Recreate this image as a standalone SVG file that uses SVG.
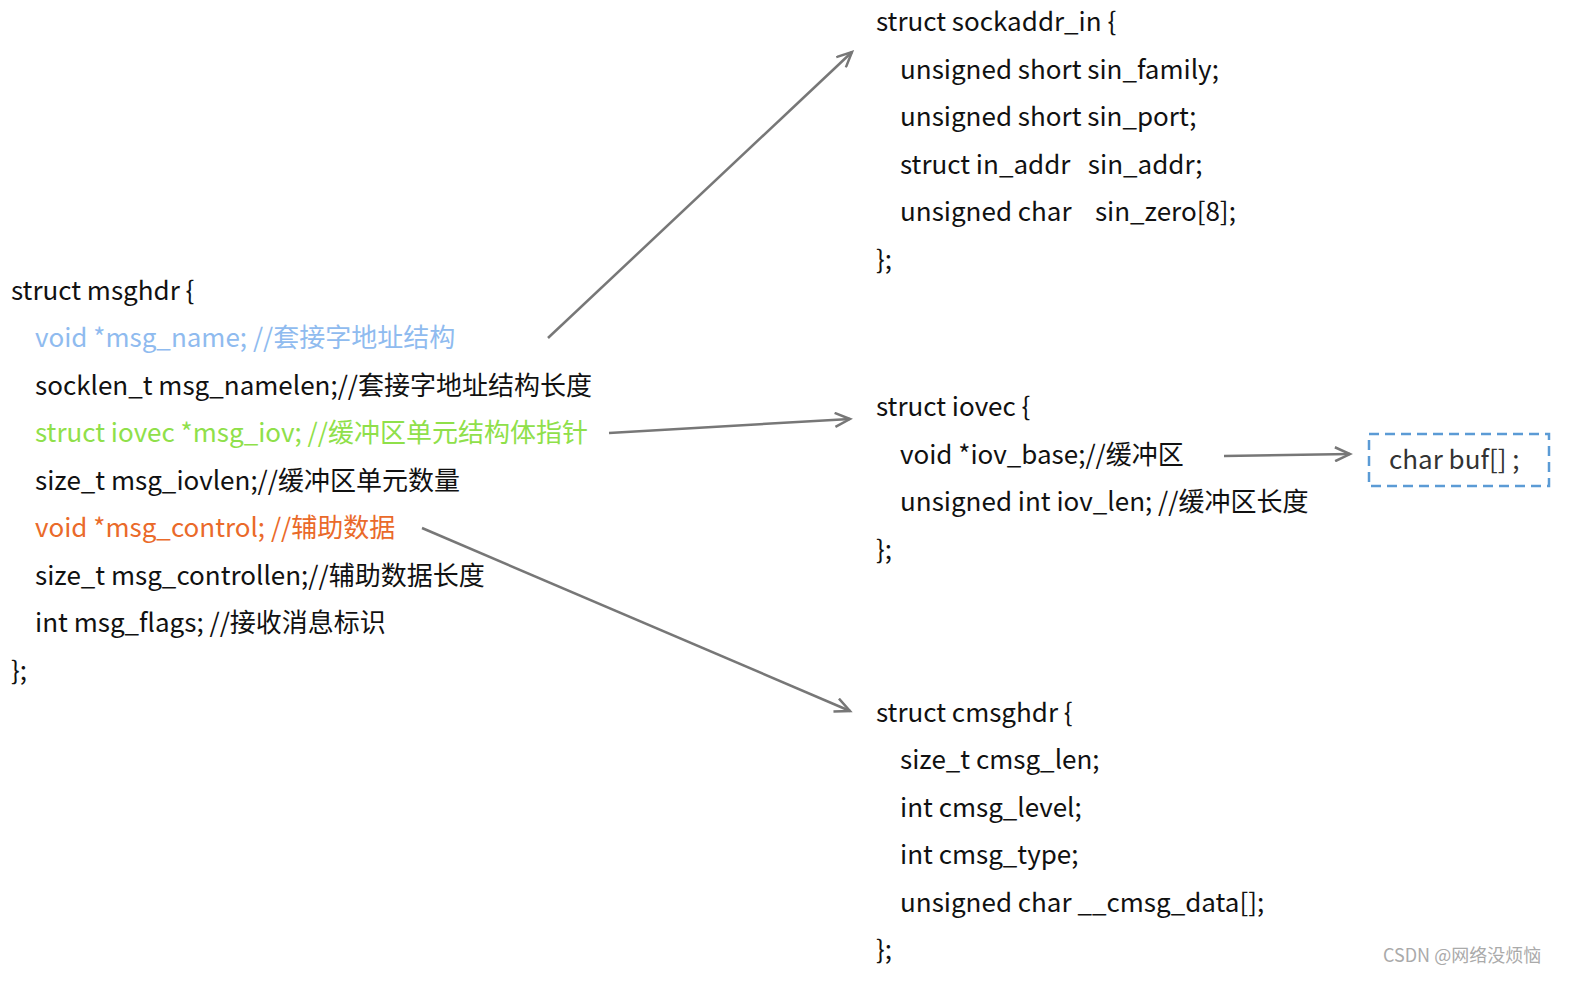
<svg xmlns="http://www.w3.org/2000/svg" width="1582" height="985" viewBox="0 0 1582 985">
<style>
text{font-family:"Noto Sans CJK SC","Noto Sans",sans-serif;font-size:26px;fill:#111}
.b{fill:#8fbbef}.g{fill:#8fe04a}.o{fill:#ea6a2a}
.c{stroke:#777;stroke-width:2.5;fill:none}
</style>
<defs><marker id="a" markerWidth="20" markerHeight="16" refX="17" refY="8" orient="auto" markerUnits="userSpaceOnUse"><path d="M2,1 L17,8 L2,15" fill="none" stroke="#777" stroke-width="2.5"/></marker></defs>
<rect width="1582" height="985" fill="#fff"/>
<g id="msghdr">
<text x="11" y="300">struct msghdr {</text>
<text x="35" y="347" class="b">void *msg_name; //套接字地址结构</text>
<text x="35" y="395">socklen_t msg_namelen;//套接字地址结构长度</text>
<text x="35" y="442" class="g">struct iovec *msg_iov; //缓冲区单元结构体指针</text>
<text x="35" y="490">size_t msg_iovlen;//缓冲区单元数量</text>
<text x="35" y="537" class="o">void *msg_control; //辅助数据</text>
<text x="35" y="585">size_t msg_controllen;//辅助数据长度</text>
<text x="35" y="632">int msg_flags;  //接收消息标识</text>
<text x="11" y="680">};</text>
</g>
<g id="sockaddr_in">
<text x="876" y="31">struct sockaddr_in {</text>
<text x="900" y="79">unsigned short sin_family;</text>
<text x="900" y="126">unsigned short sin_port;</text>
<text x="900" y="174" xml:space="preserve">struct in_addr   sin_addr;</text>
<text x="900" y="221" xml:space="preserve">unsigned char    sin_zero[8];</text>
<text x="876" y="269">};</text>
</g>
<g id="iovec">
<text x="876" y="416">struct iovec {</text>
<text x="900" y="464">void *iov_base;//缓冲区</text>
<text x="900" y="511">unsigned int iov_len; //缓冲区长度</text>
<text x="876" y="559">};</text>
</g>
<g id="buf">
<rect x="1369" y="434" width="180" height="52" fill="none" stroke="#5b9bd5" stroke-width="2.5" stroke-dasharray="10,6"/>
<text x="1389" y="469" style="fill:#333">char buf[] ;</text>
</g>
<g id="cmsghdr">
<text x="876" y="722">struct cmsghdr {</text>
<text x="900" y="769">size_t cmsg_len;</text>
<text x="900" y="817">int cmsg_level;</text>
<text x="900" y="864">int cmsg_type;</text>
<text x="900" y="912">unsigned char __cmsg_data[];</text>
<text x="876" y="959">};</text>
</g>
<g id="connectors">
<line class="c" x1="548" y1="338" x2="852" y2="52" marker-end="url(#a)"/>
<line class="c" x1="609" y1="433" x2="850" y2="419" marker-end="url(#a)"/>
<line class="c" x1="1224" y1="456" x2="1350" y2="454" marker-end="url(#a)"/>
<line class="c" x1="422" y1="528" x2="850" y2="711" marker-end="url(#a)"/>
</g>
<text x="1383" y="962" style="font-size:18px;fill:#aaa">CSDN @网络没烦恼</text>
</svg>
